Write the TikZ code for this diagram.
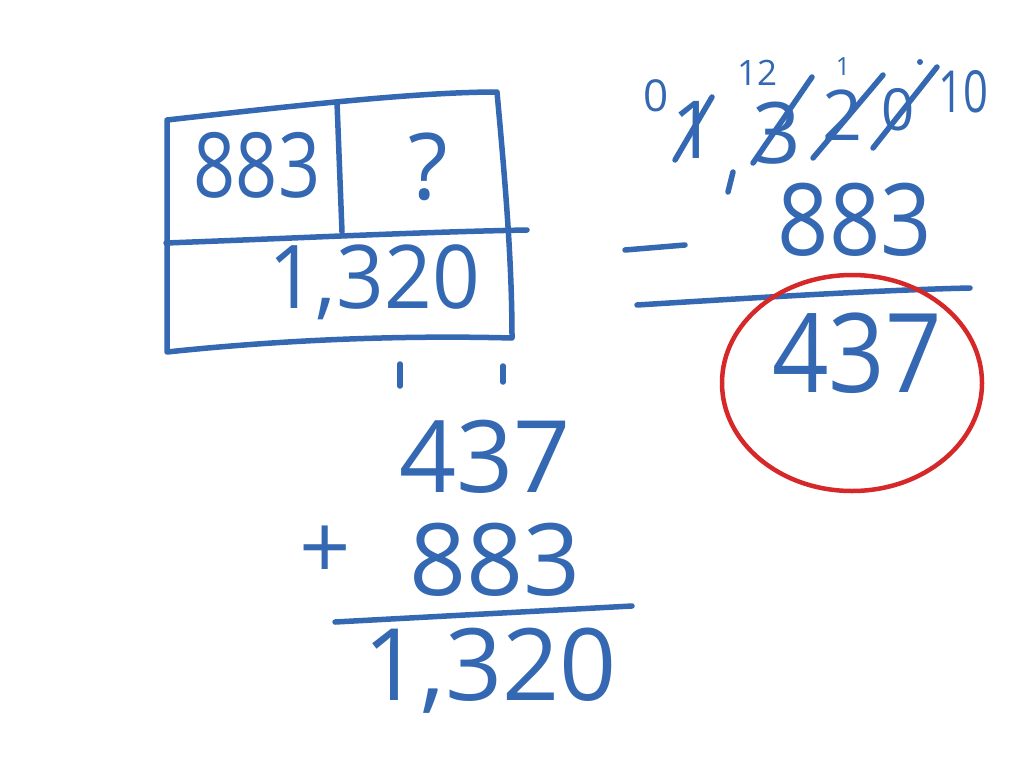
\documentclass[tikz,border=0pt]{standalone}
\usepackage{fontspec}
\setmainfont{Open Sans}
\definecolor{inkblue}{RGB}{52,104,178}
\definecolor{inkred}{RGB}{214,40,40}
\newcommand{\fsz}[1]{\fontsize{#1}{#1}\selectfont}
\tikzset{
  ink/.style={draw=inkblue, line width=5.5pt, line cap=round, line join=round},
  redink/.style={draw=inkred, line width=4.5pt},
  dig/.style={text=inkblue, inner sep=0pt, anchor=base},
}
\begin{document}
\begin{tikzpicture}[x=1pt,y=-1pt]
\fill[white] (0,0) rectangle (1024,768);
\useasboundingbox (0,0) rectangle (1024,768);

% ---- box model ----
\draw[ink] (167,120) .. controls (300,105) and (420,92) .. (497,92)
  .. controls (505,180) and (512,260) .. (512,338)
  .. controls (400,335) and (280,340) .. (167,352) -- cycle;
\draw[ink] (166,243) .. controls (300,238) and (420,232) .. (527,230);
\draw[ink] (337,102) -- (342,232);
\node[dig, font=\fsz{90}, xscale=0.82] (b883) at (257,197) {883};
\node[dig, font=\fsz{92}] (bq) at (428,199) {?};
\node[dig, font=\fsz{88}, xscale=0.95] (b1320) at (374,308) {1,320};

% ---- addition check ----
\draw[ink] (400,364) -- (400,386);
\draw[ink] (503,366) -- (503,382);
\node[dig, font=\fsz{100}] (s437) at (485,492) {437};
\node[text=inkblue, inner sep=0pt, font=\fsz{90}] (splus) at (325,553) {+};
\node[dig, font=\fsz{100}] (s883) at (495,595) {883};
\draw[ink] (335,622) -- (632,606);
\node[dig, font=\fsz{100}] (s1320) at (490,700) {1,320};

% ---- subtraction ----
\node[dig, font=\fsz{44}] (z0) at (656,111) {0};
\node[dig, font=\fsz{80}] (d1) at (694,158) {1};
\draw[ink] (712,97) -- (675,160);
\draw[ink] (733,172) -- (728,192);
\node[dig, font=\fsz{35}] (s12) at (757,85) {12};
\node[dig, font=\fsz{85}] (d3) at (777,163) {3};
\draw[ink] (812,77) -- (753,163);
\node[dig, font=\fsz{25}] (s11) at (843,75) {1};
\node[dig, font=\fsz{70}] (d2) at (842,140) {2};
\draw[ink] (883,75) -- (813,158);
\node[dig, font=\fsz{58}] (d0) at (898,130) {0};
\draw[ink] (937,67) -- (873,148);
\fill[inkblue] (920,62) circle (3pt);
\node[dig, font=\fsz{58}, xscale=0.75] (s10) at (963,112) {10};

\draw[ink] (625,250) -- (685,245);
\node[dig, font=\fsz{100}, xscale=0.9] (r883) at (855,255) {883};
\draw[ink] (637,305) .. controls (750,298) and (880,290) .. (970,288);
\node[dig, font=\fsz{110}, xscale=0.9] (r437) at (857,392) {437};
\draw[redink] (852,383) ellipse [x radius=130, y radius=108];
\end{tikzpicture}
\end{document}
